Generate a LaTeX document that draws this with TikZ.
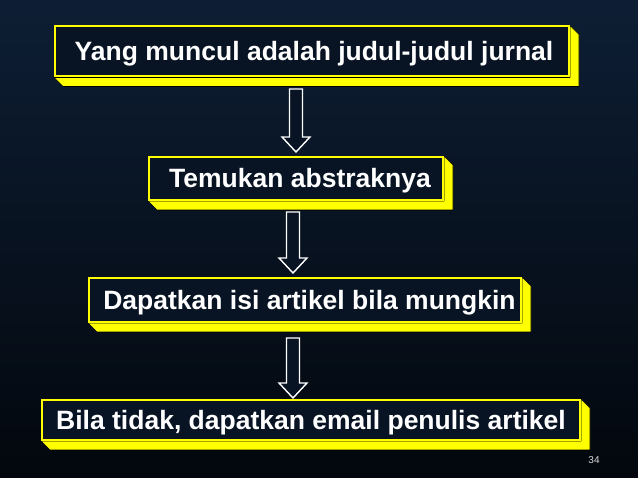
\documentclass[tikz,border=0pt]{standalone}
\usepackage{fontspec}
\setmainfont{Liberation Sans}
\definecolor{bgtop}{RGB}{13,30,52}
\definecolor{bgbot}{RGB}{3,7,13}
\definecolor{facec}{RGB}{8,20,36}
\definecolor{ylw}{RGB}{255,255,0}
\tikzset{
  face/.style={draw=ylw, line width=2pt, fill=facec, text=white, font=\bfseries\fontsize{26.5}{30}\selectfont, inner sep=0pt, text height=19pt, text depth=0pt, minimum height=#1},
  extr/.style={fill=ylw, draw=black, line width=0.6pt, line join=round},
  harrow/.style={draw=white, line width=1.4pt, fill=facec, line join=miter}
}
\newcommand\extrude[2]{% node, depth
  \filldraw[extr] (#1.south west) -- ++(#2,#2) -- ($(#1.south east)+(#2,#2)$) -- ($(#1.north east)+(#2,#2)$) -- (#1.north east) -- (#1.south east) -- cycle;
}
\newcommand\hollowarrow[5]{% name, cx, top, tip, headlen
  \coordinate (#1t) at (#2,#3);
  \coordinate (#1b) at (#2,#4);
  \filldraw[harrow] ($(#1t)+(-6.5,0)$) -- ($(#1t)+(6.5,0)$) -- ($(#1b)+(6.5,-#5)$) -- ($(#1b)+(14,-#5)$) -- (#1b) -- ($(#1b)+(-14,-#5)$) -- ($(#1b)+(-6.5,-#5)$) -- cycle;
}
\usetikzlibrary{calc}
\begin{document}
\begin{tikzpicture}[x=1pt,y=-1pt]
\shade[top color=bgtop, bottom color=bgbot] (0,0) rectangle (638,478);
\useasboundingbox (0,0) rectangle (638,478);

\node[face=50pt, minimum width=514pt] (b1) at (312,51.5) {\hspace*{4pt}Yang muncul adalah judul-judul jurnal};
\extrude{b1}{9}
\node[face=50pt, minimum width=514pt] (b1f) at (312,51.5) {\hspace*{4pt}Yang muncul adalah judul-judul jurnal};

\node[face=43pt, minimum width=294pt] (b2) at (296,178.5) {\hspace*{8pt}Temukan abstraknya};
\extrude{b2}{9}
\node[face=43pt, minimum width=294pt] (b2f) at (296,178.5) {\hspace*{8pt}Temukan abstraknya};

\node[face=44pt, minimum width=432pt] (b3) at (305,300) {\hspace*{9pt}Dapatkan isi artikel bila mungkin};
\extrude{b3}{9}
\node[face=44pt, minimum width=432pt] (b3f) at (305,300) {\hspace*{9pt}Dapatkan isi artikel bila mungkin};

\node[face=40pt, minimum width=538pt] (b4) at (311,420) {Bila tidak, dapatkan email penulis artikel};
\extrude{b4}{9}
\node[face=40pt, minimum width=538pt] (b4f) at (311,420) {Bila tidak, dapatkan email penulis artikel};

\hollowarrow{a1}{296}{89}{152}{15}
\hollowarrow{a2}{293}{212}{273}{15}
\hollowarrow{a3}{293}{338}{398}{15}

\node[text=white!85!black, font=\fontsize{10}{11}\selectfont, inner sep=0pt] (pg) at (594,460) {34};
\end{tikzpicture}
\end{document}
